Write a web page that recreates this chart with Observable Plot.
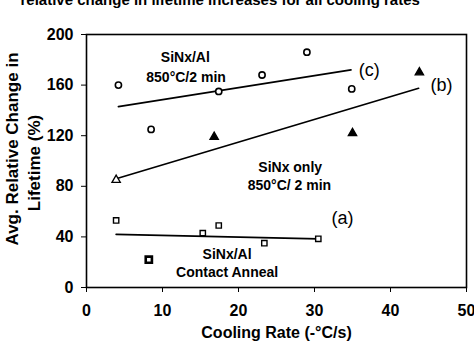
<!DOCTYPE html>
<html><head><meta charset="utf-8">
<script src="https://cdn.jsdelivr.net/npm/d3@7"></script>
<script src="https://cdn.jsdelivr.net/npm/@observablehq/plot@0.6"></script>
<style>
body{margin:0;background:#fff;}
</style>
</head><body><div id="chart"></div>
<script>
// (c) SiNx/Al 850°C/2 min — open circles
const cX = [4.2, 8.5, 17.4, 23.1, 29.0, 34.9];
const cY = [160, 125, 155, 168, 186, 157];
const cFit = [[4.2, 143], [34.8, 172]];
// (b) SiNx only 850°C/2 min — triangles
const bX = [3.9, 16.8, 35.0, 43.8];
const bY = [85, 119, 122, 170];
const bOpen = [true, false, false, false];
const bFit = [[3.9, 86], [43.7, 157.5]];
// (a) SiNx/Al contact anneal — open squares
const aX = [3.9, 8.2, 15.3, 17.4, 23.4, 30.5];
const aY = [53, 22, 43, 49, 35, 38.5];
const aBig = [false, true, false, false, false, false];
const aFit = [[3.9, 42], [30.5, 38.5]];

const xTicks = [0, 10, 20, 30, 40, 50];
const yTicks = [0, 40, 80, 120, 160, 200];

const boldLabels = [
  {t: "SiNx/Al", x: 13.0, y: 182},
  {t: "850°C/2 min", x: 13.1, y: 166},
  {t: "SiNx only", x: 26.8, y: 95},
  {t: "850°C/ 2 min", x: 26.7, y: 81},
  {t: "SiNx/Al", x: 18.5, y: 26},
  {t: "Contact Anneal", x: 18.5, y: 12}
];
const letterLabels = [
  {t: "(c)", x: 37.2, y: 172},
  {t: "(b)", x: 46.7, y: 160},
  {t: "(a)", x: 33.7, y: 55}
];
const yTitle1 = "Avg. Relative Change in";
const yTitle2 = "Lifetime (%)";
const xTitle = "Cooling Rate (-°C/s)";
const topText = "relative change in lifetime increases for all cooling rates";
const bottomText = "Fig. 3. Impact of the cooling rate on the effectiveness";

const circles = cX.map((x, i) => ({x, y: cY[i]}));
const tris = bX.map((x, i) => ({x, y: bY[i], open: bOpen[i]}));
const squares = aX.map((x, i) => ({x, y: aY[i], big: aBig[i]}));
const fits = [
  ...cFit.map(([x, y]) => ({x, y, s: "c"})),
  ...bFit.map(([x, y]) => ({x, y, s: "b"})),
  ...aFit.map(([x, y]) => ({x, y, s: "a"}))
];

const plot = Plot.plot({
  width: 474,
  height: 357,
  marginLeft: 86,
  marginRight: 8,
  marginTop: 34,
  marginBottom: 70,
  style: {fontFamily: "'Liberation Sans', Arial, sans-serif", fontWeight: "bold", fontSize: "16px", color: "black", background: "white"},
  x: {domain: [0, 50]},
  y: {domain: [0, 200]},
  marks: [
    Plot.frame({stroke: "black", strokeWidth: 1.6}),
    Plot.axisX({ticks: xTicks, tickSize: 5, tickPadding: 12, fontSize: 16, fontWeight: "bold",
      label: xTitle, labelAnchor: "center", labelArrow: "none", labelOffset: 50}),
    Plot.axisY({ticks: yTicks, tickSize: 5, tickPadding: 8, fontSize: 16, fontWeight: "bold", label: null}),
    Plot.text([yTitle1], {frameAnchor: "left", dx: -74, dy: -12, rotate: -90, textAnchor: "middle", fontSize: 17, fontWeight: "bold"}),
    Plot.text([yTitle2], {frameAnchor: "left", dx: -52, dy: 2, rotate: -90, textAnchor: "middle", fontSize: 17, fontWeight: "bold"}),
    Plot.line(fits, {x: "x", y: "y", z: "s", stroke: "black", strokeWidth: 1.7}),
    Plot.dot(circles, {x: "x", y: "y", r: 3.1, stroke: "black", strokeWidth: 1.6, fill: "white"}),
    Plot.dot(tris, {x: "x", y: "y", symbol: "triangle", r: 3.1, stroke: "black", strokeWidth: 1.3, fill: d => d.open ? "white" : "black"}),
    Plot.dot(squares, {x: "x", y: "y", symbol: "square", r: d => d.big ? 4.6 : 3.4, stroke: "black", strokeWidth: d => d.big ? 2.6 : 1.4, fill: "white"}),
    Plot.text(boldLabels, {x: "x", y: "y", text: "t", fontSize: 14, fontWeight: "bold", letterSpacing: 1.5}),
    Plot.text(letterLabels, {x: "x", y: "y", text: "t", fontSize: 18, fontWeight: "normal"}),
    Plot.text([topText], {frameAnchor: "top-left", dx: -66, dy: -30, lineAnchor: "bottom", textAnchor: "start", fontSize: 15, fontWeight: "bold"}),
    Plot.text([bottomText], {frameAnchor: "bottom-left", dx: -74, dy: 82, lineAnchor: "bottom", textAnchor: "start", fontSize: 15, fontWeight: "normal"})
  ]
});
document.getElementById("chart").appendChild(plot);
</script>
</body></html>
